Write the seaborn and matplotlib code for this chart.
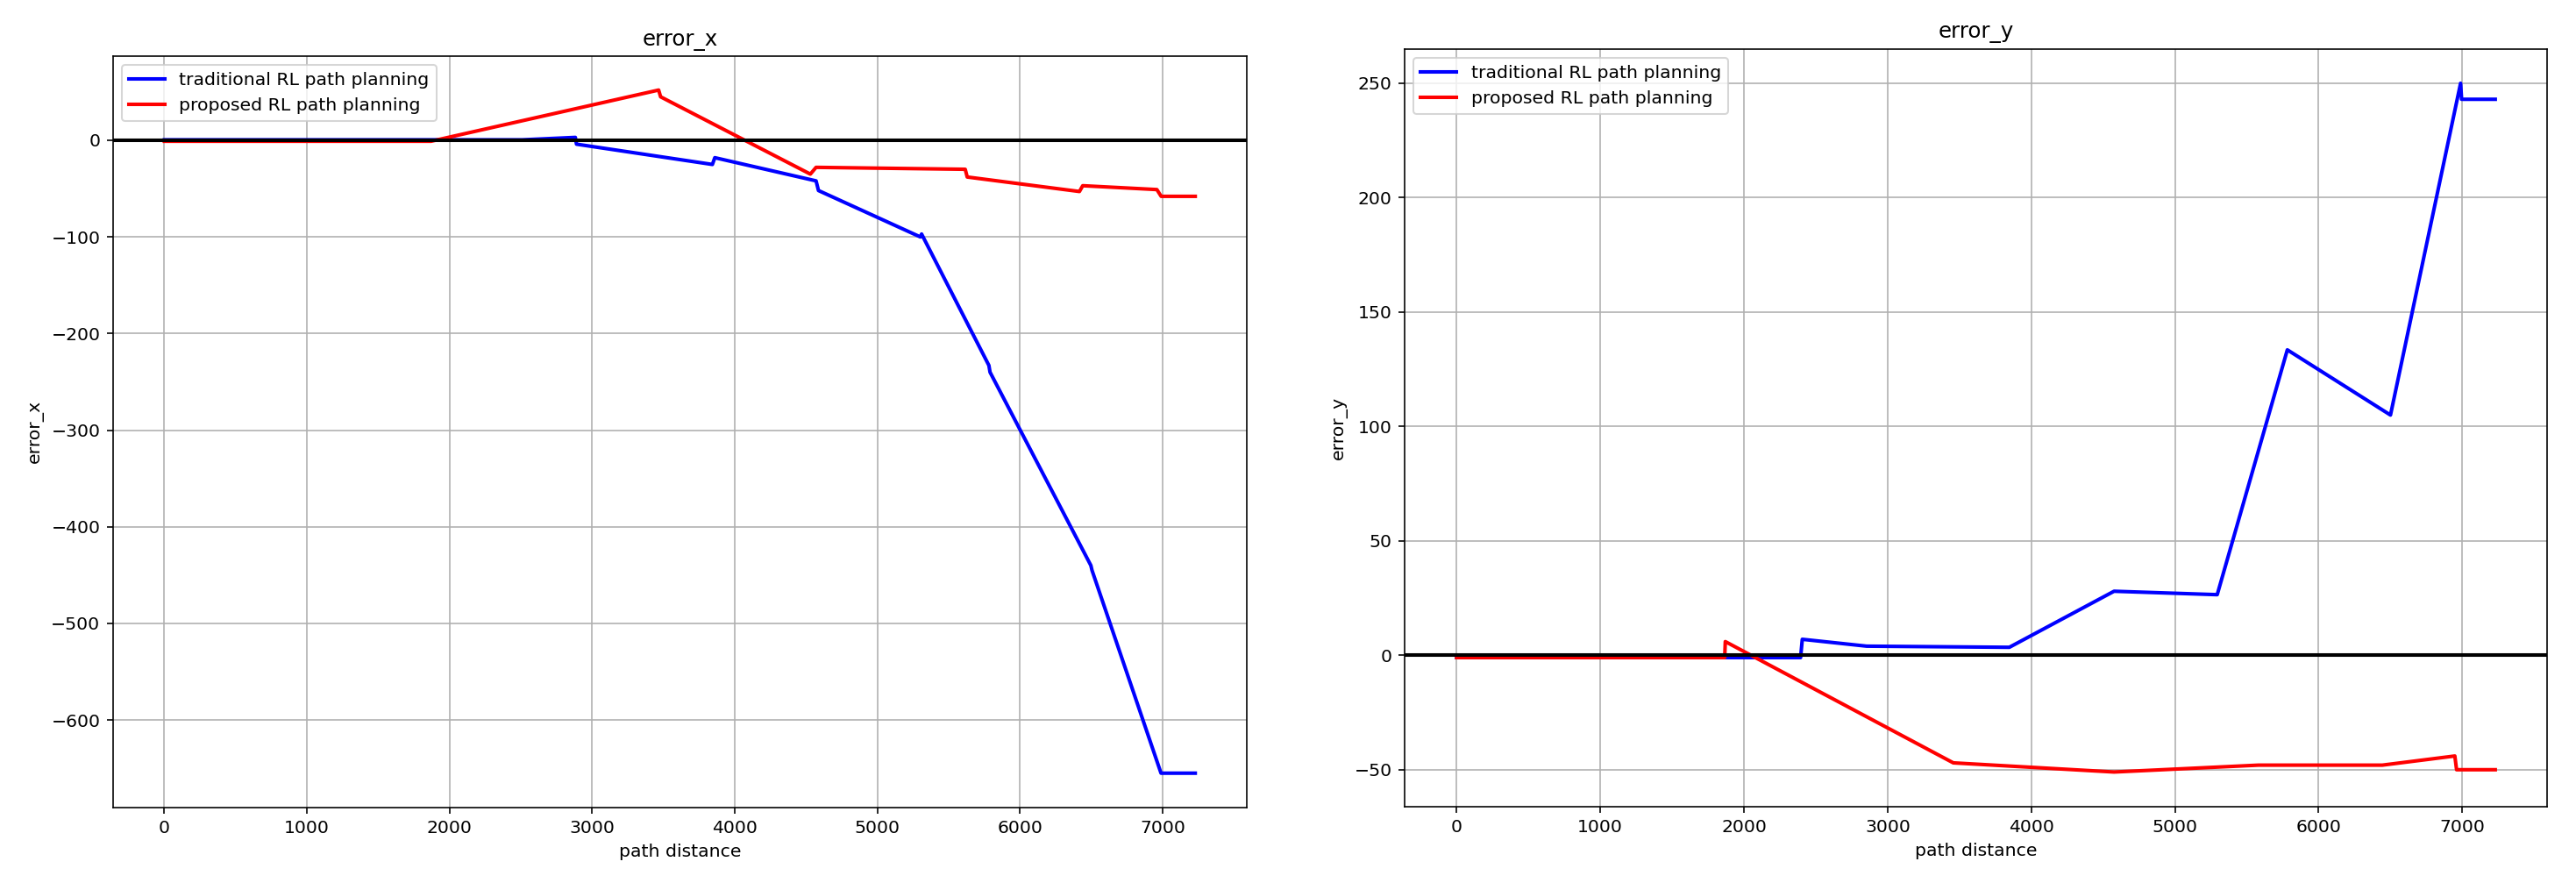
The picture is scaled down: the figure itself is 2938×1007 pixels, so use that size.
import matplotlib
matplotlib.use("Agg")
import matplotlib.pyplot as plt
import seaborn as sns

# error_x: path distance vs error, traditional vs proposed
ex_trad_x = [0, 2510, 2882, 2890, 3843, 3860, 4570, 4587, 5301, 5310, 5782, 5790, 6497, 6505, 6989, 7229]
ex_trad_y = [0.5, 0.5, 3, -4, -25, -18, -42, -52, -100, -97, -233, -240, -440, -445, -655, -655]
ex_prop_x = [0, 1870, 3466, 3480, 4530, 4570, 5616, 5630, 6417, 6440, 6960, 6990, 7229]
ex_prop_y = [-1, -1, 52, 45, -35, -28, -30, -38, -53, -47, -51, -58, -58]

# error_y
ey_trad_x = [0, 2394, 2406, 2854, 3847, 4576, 5294, 5782, 6500, 6988, 6995, 7229]
ey_trad_y = [-1, -1, 7, 4, 3.5, 28, 26.5, 133.5, 105, 250, 243, 243]
ey_prop_x = [0, 1866, 1870, 3457, 4576, 5581, 6443, 6948, 6960, 7229]
ey_prop_y = [-1, -1, 6, -47, -51, -48, -48, -44, -50, -50]

labels = ["traditional RL path planning", "proposed RL path planning"]

DPI = 146.9
fig, axes = plt.subplots(1, 2, figsize=(2938 / DPI, 1007 / DPI), dpi=DPI)
# the two panels do not line up exactly in the original, so place them by hand
axes[0].set_position([0.0438, 0.0857, 0.4402, 0.8510])
axes[1].set_position([0.5453, 0.0867, 0.4435, 0.8580])

panels = [
    ("error_x", ex_trad_x, ex_trad_y, ex_prop_x, ex_prop_y),
    ("error_y", ey_trad_x, ey_trad_y, ey_prop_x, ey_prop_y),
]

for ax, (name, tx, ty, px, py) in zip(axes, panels):
    sns.lineplot(x=tx, y=ty, ax=ax, color="blue", lw=2, label=labels[0])
    sns.lineplot(x=px, y=py, ax=ax, color="red", lw=2, label=labels[1])
    ax.axhline(0, color="black", lw=2)
    ax.grid(True)
    ax.set_title(name)
    ax.set_xlabel("path distance")
    ax.set_ylabel(name)
    ax.legend(loc="upper left")

fig.savefig("out.png", dpi=DPI)
